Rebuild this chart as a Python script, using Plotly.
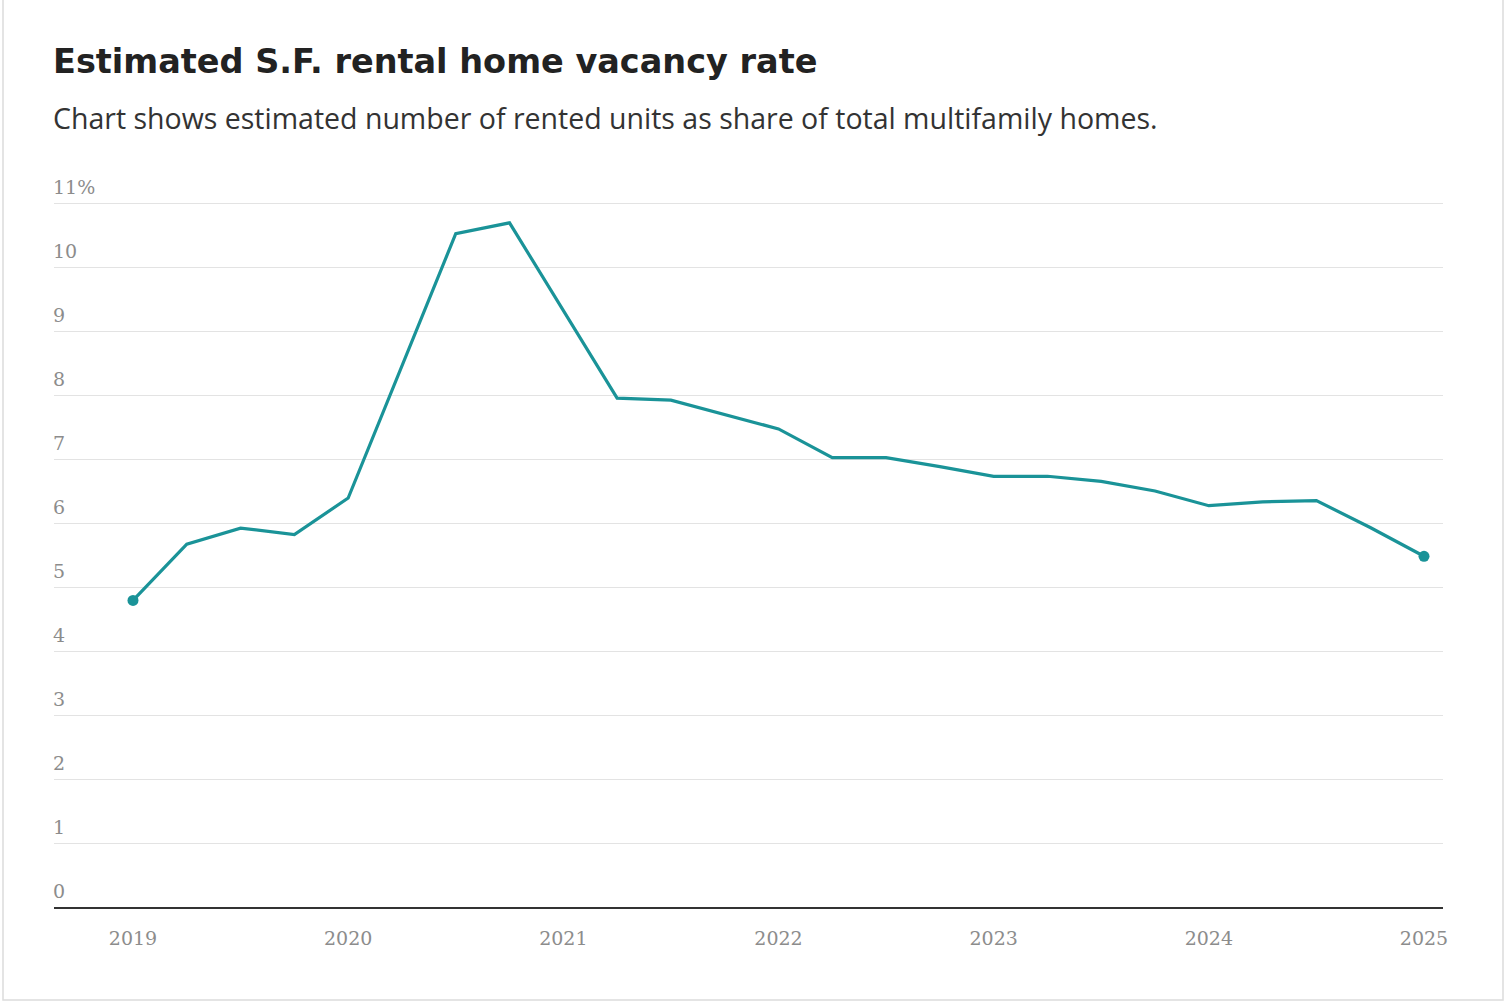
import plotly.graph_objects as go

# Data: quarterly estimates, 2019 Q1 .. 2025 Q1
quarters = [2019 + i * 0.25 for i in range(25)]
vacancy = [4.79, 5.67, 5.92, 5.82, 6.39, 8.45, 10.52, 10.69, 9.33, 7.95,
           7.92, 7.70, 7.47, 7.02, 7.02, 6.88, 6.73, 6.73, 6.65, 6.50,
           6.27, 6.33, 6.35, 5.93, 5.48]
year_ticks = [2019, 2020, 2021, 2022, 2023, 2024, 2025]
y_ticks = [0, 1, 2, 3, 4, 5, 6, 7, 8, 9, 10, 11]
y_labels = ["0", "1", "2", "3", "4", "5", "6", "7", "8", "9", "10", "11%"]

title = "Estimated S.F. rental home vacancy rate"
subtitle = "Chart shows estimated number of rented units as share of total multifamily homes."

W, H = 1508, 1008
ML, MR, MT, MB = 54, 65, 193, 101
PW = W - ML - MR
PH = H - MT - MB
Y_TOP = 11 * (H - MB - MT) / (H - MB - 203)  # extend range so 11 gridline shows at px 203

def px_x(px):
    return (px - ML) / PW

def px_y(py):
    return (H - MB - py) / PH

LINE = "#1a9398"
TICK_FONT = dict(family="DejaVu Serif", size=19, color="#8c8c8c")

fig = go.Figure()
fig.add_trace(go.Scatter(
    x=quarters, y=vacancy, mode="lines",
    line=dict(color=LINE, width=3.2), hoverinfo="skip", showlegend=False))
fig.add_trace(go.Scatter(
    x=[quarters[0], quarters[-1]], y=[vacancy[0], vacancy[-1]], mode="markers",
    marker=dict(color=LINE, size=11), hoverinfo="skip", showlegend=False))

annotations = []
for v, lab in zip(y_ticks, y_labels):
    annotations.append(dict(
        x=0, xref="paper", y=v, yref="y", text=lab, showarrow=False,
        xanchor="left", yanchor="bottom", yshift=3, xshift=-3, font=TICK_FONT))

annotations.append(dict(
    x=px_x(54), xref="paper", y=px_y(61), yref="paper", text="<b>" + title + "</b>",
    showarrow=False, xanchor="left", yanchor="middle", xshift=-3,
    font=dict(family="DejaVu Sans", size=33.5, color="#222222")))
annotations.append(dict(
    x=px_x(54), xref="paper", y=px_y(118), yref="paper", text=subtitle,
    showarrow=False, xanchor="left", yanchor="middle", xshift=-3,
    font=dict(family="Open Sans", size=28.5, color="#333333")))

shapes = [
    dict(type="rect", xref="paper", yref="paper",
         x0=px_x(3), x1=px_x(1503), y0=px_y(1000), y1=px_y(-20),
         line=dict(color="#dcdcdc", width=1.5), fillcolor="rgba(0,0,0,0)", layer="below"),
]

fig.update_layout(
    width=W, height=H,
    margin=dict(l=ML, r=MR, t=MT, b=MB),
    paper_bgcolor="white", plot_bgcolor="white",
    annotations=annotations, shapes=shapes,
    xaxis=dict(
        range=[2019 - 79 / 215.17, 2025 + 19 / 215.17],
        tickvals=year_ticks, ticktext=[str(y) for y in year_ticks],
        showgrid=False, zeroline=False, ticks="",
        showline=True, linecolor="#333333", linewidth=2,
        tickfont=TICK_FONT, ticklabelstandoff=13, fixedrange=True),
    yaxis=dict(
        range=[0, Y_TOP], tickvals=y_ticks, showticklabels=False,
        showgrid=True, gridcolor="#e3e3e3", gridwidth=1,
        zeroline=False, showline=False, fixedrange=True),
)

fig.write_html("out.html")
